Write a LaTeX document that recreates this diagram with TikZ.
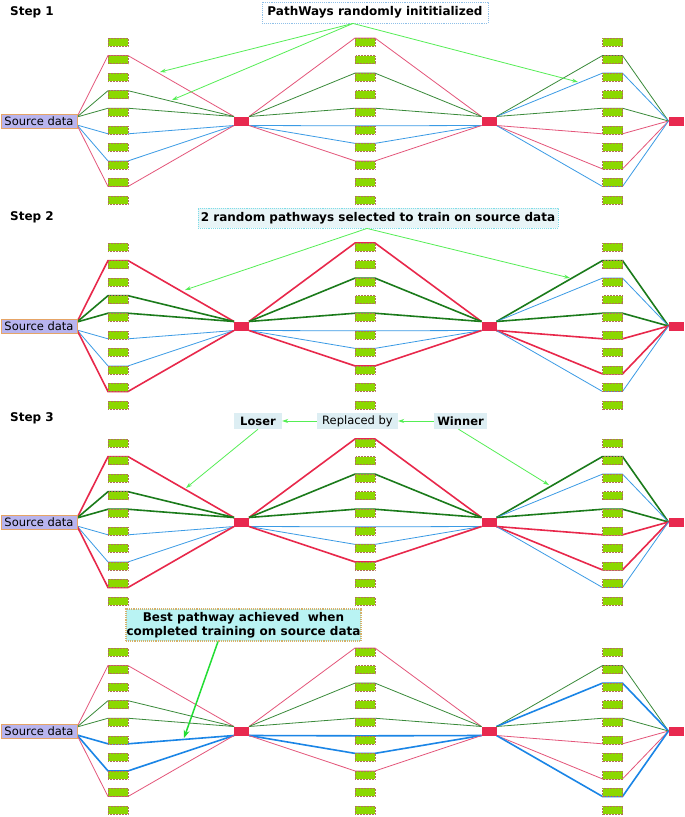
\documentclass[tikz,border=0pt]{standalone}
\usepackage{fontspec}
\setmainfont{DejaVu Sans}
\usetikzlibrary{arrows.meta}
\pgfdeclarelayer{bg}
\pgfdeclarelayer{paper}
\pgfsetlayers{paper,bg,main}
\definecolor{boxgreen}{HTML}{8CD800}
\definecolor{boxedge}{HTML}{B0705A}
\definecolor{rednode}{HTML}{E8294F}
\definecolor{srcfill}{HTML}{B8B4EE}
\definecolor{srcedge}{HTML}{E6A466}
\definecolor{lred}{HTML}{E4557A}
\definecolor{lgreen}{HTML}{3A8A3A}
\definecolor{lblue}{HTML}{3B9BE5}
\definecolor{hred}{HTML}{E8284B}
\definecolor{hgreen}{HTML}{1B7B1B}
\definecolor{hblue}{HTML}{1A85E6}
\definecolor{annline}{HTML}{55EE55}
\definecolor{annbright}{HTML}{22DD33}
\definecolor{tagfill}{HTML}{DDEEF3}
\definecolor{an1edge}{HTML}{90C0E8}
\definecolor{cyanfill}{HTML}{E8F5F7}
\definecolor{cyanedge}{HTML}{7FDDE8}
\definecolor{bestfill}{HTML}{B9F3F3}
\definecolor{bestedge}{HTML}{D4B06A}
\newcommand\fsA{\fontsize{11.5pt}{13.5pt}\selectfont}
\newcommand\fsB{\fontsize{12pt}{14pt}\selectfont}
\newcommand\pth[5]{\draw[#1] (#2) -- (#3.#4 west) -- (#3.#4 east) -- (#5);}
\newcommand\panel[5]{%
\begin{scope}[shift={(0,#2)}]
\node[src] (S#1) at (39,121) {Source data};
\foreach \i in {1,...,10}{
 \pgfmathsetmacro\yy{42+(\i-1)*17.56}
 \node[gbox] (A#1x\i) at (118,\yy) {};
 \node[gbox] (B#1x\i) at (365,\yy) {};
 \node[gbox] (C#1x\i) at (612.5,\yy) {};
}
\node[rnode] (R#1a) at (241.5,121) {};
\node[rnode] (R#1b) at (489,121) {};
\node[rnode] (R#1c) at (676,121) {};
\begin{pgfonlayer}{bg}
\pth{#3}{[yshift=4pt]S#1.east}{A#1x2}{north}{R#1a.north west}
\pth{#4}{[yshift=4pt]S#1.east}{A#1x4}{north}{R#1a.north west}
\pth{#4}{[yshift=4pt]S#1.east}{A#1x5}{north}{R#1a.north west}
\pth{#5}{[yshift=-4pt]S#1.east}{A#1x6}{south}{R#1a.south west}
\pth{#5}{[yshift=-4pt]S#1.east}{A#1x8}{north}{R#1a.south west}
\pth{#3}{[yshift=-4pt]S#1.east}{A#1x9}{south}{R#1a.south west}
\pth{#3}{R#1a.north east}{B#1x1}{north}{R#1b.north west}
\pth{#4}{R#1a.north east}{B#1x3}{north}{R#1b.north west}
\pth{#4}{R#1a.north east}{B#1x5}{north}{R#1b.north west}
\pth{#5}{R#1a.south east}{B#1x6}{north}{R#1b.south west}
\pth{#5}{R#1a.south east}{B#1x7}{north}{R#1b.south west}
\pth{#3}{R#1a.south east}{B#1x8}{north}{R#1b.south west}
\pth{#4}{R#1b.north east}{C#1x2}{north}{R#1c.west}
\pth{#5}{R#1b.north east}{C#1x3}{north}{R#1c.west}
\pth{#4}{R#1b.north east}{C#1x5}{north}{R#1c.west}
\pth{#3}{R#1b.south east}{C#1x6}{south}{R#1c.west}
\pth{#3}{R#1b.south east}{C#1x8}{south}{R#1c.west}
\pth{#5}{R#1b.south east}{C#1x9}{south}{R#1c.west}
\end{pgfonlayer}
\end{scope}}
\tikzset{
 gbox/.style={rectangle, minimum width=20pt, minimum height=8pt, inner sep=0pt, outer sep=0pt, fill=boxgreen, draw=boxedge, densely dotted, line width=0.5pt},
 rnode/.style={rectangle, minimum width=15pt, minimum height=9pt, inner sep=0pt, outer sep=0pt, fill=rednode},
 src/.style={rectangle, minimum width=76pt, minimum height=14pt, inner sep=0pt, outer sep=0pt, fill=srcfill, draw=srcedge, line width=0.6pt, font=\fsA},
 thinred/.style={draw=lred, line width=0.8pt},
 thingreen/.style={draw=lgreen, line width=0.8pt},
 thinblue/.style={draw=lblue, line width=0.8pt},
 thickred/.style={draw=hred, line width=1.6pt},
 thickgreen/.style={draw=hgreen, line width=1.6pt},
 thickblue/.style={draw=hblue, line width=1.6pt},
 steplbl/.style={anchor=west, inner sep=0pt, font=\fsB\bfseries},
 ann/.style={draw=annline, line width=0.8pt, -{Stealth[length=6pt,width=4pt]}},
 annbig/.style={draw=annbright, line width=1.5pt, -{Stealth[length=8pt,width=6pt]}},
 tag/.style={rectangle, inner sep=0pt, fill=tagfill, font=\fsA, minimum height=16pt},
}
\begin{document}
\begin{tikzpicture}[x=1pt, y=-1pt]
\begin{pgfonlayer}{paper}
\fill[white] (0,0) rectangle (685,817);
\end{pgfonlayer}
\useasboundingbox (0,0) rectangle (685,817);
\panel{1}{0}{thinred}{thingreen}{thinblue}
\panel{2}{205}{thickred}{thickgreen}{thinblue}
\panel{3}{401}{thickred}{thickgreen}{thinblue}
\panel{4}{610}{thinred}{thingreen}{thickblue}
% step labels
\node[steplbl] (st1) at (10,12) {Step 1};
\node[steplbl] (st2) at (10,217) {Step 2};
\node[steplbl] (st3) at (10,418) {Step 3};
% annotation 1
\node[rectangle, minimum width=226pt, minimum height=21pt, inner sep=0pt, fill=white, draw=an1edge, densely dotted, line width=0.9pt, font=\fsB\bfseries] (an1) at (375,12.5) {PathWays randomly inititialized};
\coordinate (t1a) at (160,72);
\coordinate (t1b) at (172,100);
\coordinate (t1c) at (578,82);
\draw[ann] ([xshift=-22pt]an1.south) -- (t1a);
\draw[ann] ([xshift=-22pt]an1.south) -- (t1b);
\draw[ann] ([xshift=-22pt]an1.south) -- (t1c);
% annotation 2
\node[rectangle, minimum width=360pt, minimum height=20pt, inner sep=0pt, fill=cyanfill, draw=cyanedge, densely dotted, line width=0.9pt, font=\fsB\bfseries] (an2) at (378,218) {2 random pathways selected to train on source data};
\coordinate (t2a) at (185,290);
\coordinate (t2b) at (570,278);
\draw[ann] ([xshift=-11pt]an2.south) -- (t2a);
\draw[ann] ([xshift=-11pt]an2.south) -- (t2b);
% annotation 3
\node[tag, minimum width=48pt, font=\fsA\bfseries] (los) at (258,421) {Loser};
\node[tag, minimum width=81pt] (rep) at (357.5,421) {Replaced by};
\node[tag, minimum width=53pt, font=\fsA\bfseries] (win) at (460.5,421) {Winner};
\draw[ann] (rep.west) -- (los.east);
\draw[ann] (win.west) -- (rep.east);
\coordinate (t3a) at (186,488);
\coordinate (t3b) at (549,485);
\draw[ann] (los.south) -- (t3a);
\draw[ann] ([xshift=-2pt]win.south) -- (t3b);
% annotation 4
\node[rectangle, minimum width=235pt, minimum height=32pt, inner sep=0pt, fill=bestfill, draw=bestedge, densely dotted, line width=1.1pt, font=\fsB\bfseries, align=center] (an4) at (243.5,625) {Best pathway achieved~ when\\completed training on source data};
\coordinate (t4) at (184,738);
\draw[annbig] ([xshift=-25.5pt]an4.south) -- (t4);
\end{tikzpicture}
\end{document}
